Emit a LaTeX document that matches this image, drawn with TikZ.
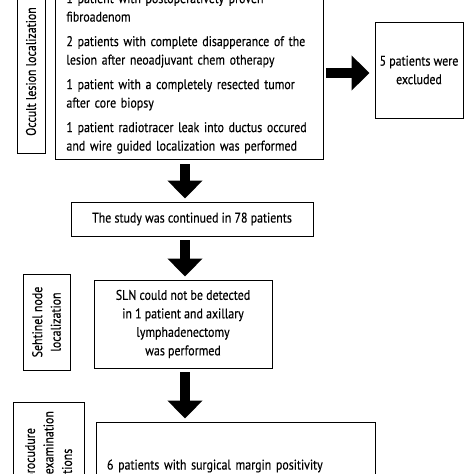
\documentclass[tikz,border=0pt]{standalone}
\usepackage{fontspec}
\setmainfont{PT Sans}[FakeStretch=0.85, FakeBold=0.3]
\usetikzlibrary{arrows.meta}
\tikzset{
    box/.style={draw, line width=0.9pt, inner sep=0pt, align=center},
    lbl/.style={box, rotate=90},
    bigarrow/.style={line width=10pt, -{Triangle[length=18pt, width=34pt]}, shorten <=4pt, shorten >=3pt},
}
\begin{document}
\begin{tikzpicture}[x=1pt, y=-1pt, every node/.style={font=\fontsize{14}{18.5}\selectfont}]
    \useasboundingbox (0,0) rectangle (474,474);
    \fill[white] (0,0) rectangle (474,474);
    \clip (0,0) rectangle (474,474);
    \coordinate (col) at (185,0);
    \node[box, anchor=south west, text width=246pt, inner xsep=11pt, inner ysep=6pt, align=left] (occult) at (55,160) {
        1 patient with postoperatively proven\\ fibroadenom\\[6pt]
        2 patients with complete disapperance of the\\ lesion after neoadjuvant chem otherapy\\[6pt]
        1 patient with a completely resected tumor\\ after core biopsy\\[6pt]
        1 patient radiotracer leak into ductus occured\\ and wire guided localization was performed};
    \node[lbl, minimum width=163pt, minimum height=28pt] (occultlbl) at (31,71.5) {Occult lesion localization};
    \node[box, minimum width=88pt, minimum height=96pt] (excluded) at (419,70) {5 patients were\\ excluded};
    \node[box, minimum width=242pt, minimum height=34pt] (continued) at (192,219) {The study was continued in 78 patients};
    \node[box, minimum width=178pt, minimum height=88pt] (sln) at (183,324) {SLN could not be detected\\ in 1 patient and axillary\\ lymphadenectomy\\ was performed};
    \node[lbl, minimum width=96pt, minimum height=47pt] (slnlbl) at (46.5,322) {Sehtinel node\\ localization};
    \node[box, text width=257pt, inner xsep=11pt, minimum height=88pt, align=left] (margin) at (235.5,466) {6 patients with surgical margin positivity};
    \node[lbl, minimum width=148pt, minimum height=71pt] (marginlbl) at (48.5,476) {Surgical procudure\\ pathological examination\\ of sections};
    % arrows
    \coordinate (ex) at ([yshift=-3pt]excluded.west);
    \draw[bigarrow, shorten <=2pt, shorten >=5pt] (occult.east |- ex) -- (ex);
    \foreach \a/\b in {occult/continued, continued/sln, sln/margin} {
        \draw[bigarrow] (\a.south -| col) -- (\b.north -| col);
    };
\end{tikzpicture}
\end{document}
